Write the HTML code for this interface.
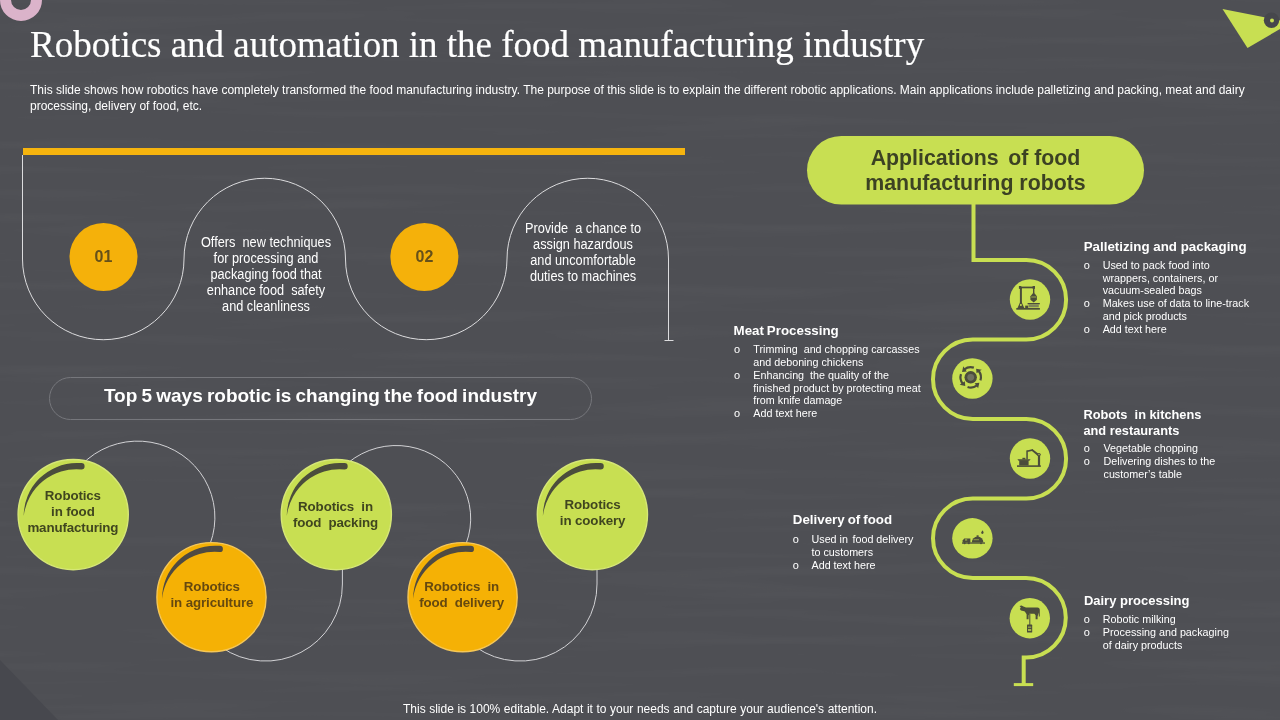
<!DOCTYPE html>
<html>
<head>
<meta charset="utf-8">
<title>Robotics and automation in the food manufacturing industry</title>
<style>
html,body{margin:0;padding:0;}
body{width:1280px;height:720px;overflow:hidden;background:#4e4f54;font-family:"Liberation Sans",sans-serif;color:#fff;position:relative;}
.abs{position:absolute;white-space:nowrap;}
#txt{position:absolute;left:0;top:0;width:1280px;height:720px;will-change:transform;}
#shapes{position:absolute;left:0;top:0;width:1280px;height:720px;}
.title{left:30px;top:22.5px;font-family:"Liberation Serif",serif;font-size:37px;line-height:44px;letter-spacing:-0.015px;-webkit-text-stroke:0.2px #fff;}
.sub{left:30px;top:82px;font-size:12px;line-height:16px;}
.num{font-weight:bold;font-size:16px;line-height:20px;color:#65501a;width:68px;text-align:center;}
.ctext{font-size:14px;line-height:16px;text-align:center;white-space:pre;transform:scaleX(0.91);transform-origin:50% 50%;}
.pilltxt{font-weight:bold;font-size:19px;line-height:24px;word-spacing:-1.1px;text-align:center;}
.ball{font-weight:bold;font-size:13.33px;line-height:16px;text-align:center;color:#40461f;letter-spacing:-0.12px;white-space:pre;width:120px;}
.ball.or{color:#66490f;}
.hd{font-weight:bold;font-size:21.33px;line-height:25.4px;text-align:center;color:#3c4223;white-space:pre;}
.h{font-weight:bold;font-size:13.33px;line-height:16px;white-space:pre;}
.b{font-size:10.75px;line-height:12.85px;white-space:pre;}
.o{font-family:"Liberation Mono",monospace;font-size:11px;line-height:12.85px;margin-left:-0.6px;margin-top:1px;}
.foot{left:0;width:1280px;text-align:center;top:700.5px;font-size:12px;line-height:16px;word-spacing:0.2px;}
</style>
</head>
<body>
<svg id="tex" viewBox="0 0 1280 720" style="position:absolute;left:0;top:0;width:1280px;height:720px;">
  <filter id="streak" x="0" y="0" width="100%" height="100%">
    <feTurbulence type="fractalNoise" baseFrequency="0.0035 0.085" numOctaves="2" seed="7" result="n"/>
    <feColorMatrix type="matrix" values="0 0 0 0 1  0 0 0 0 1  0 0 0 0 1  1.6 0 0 0 -0.72"/>
  </filter>
  <rect width="1280" height="720" filter="url(#streak)" opacity="0.032"/>
</svg>
<svg id="shapes" viewBox="0 0 1280 720">
  <!-- corner decorations -->
  <polygon points="0,660 58,720 0,720" fill="#47484e"/>
  <circle cx="21" cy="0" r="15.5" fill="none" stroke="#dbb3ca" stroke-width="11"/>
  <polygon points="1222.5,9 1280,20.2 1280,29 1247.5,48" fill="#c8df52"/>
  <circle cx="1271.5" cy="20.3" r="7.7" fill="#46474c"/>
  <circle cx="1272" cy="20.6" r="2" fill="#c8df52"/>

  <!-- yellow bar + wave -->
  <rect x="23" y="148" width="662" height="7" fill="#f6b40e"/>
  <path d="M22.5 155 V259 A80.75 80.75 0 0 0 184 259 A80.75 80.75 0 0 1 345.5 259 A80.75 80.75 0 0 0 507 259 A80.75 80.75 0 0 1 668.5 259 V340.5 M664.5 340.5 H673.5" fill="none" stroke="#dcdcde" stroke-width="1"/>
  <circle cx="103.5" cy="257" r="34" fill="#f5b10a"/>
  <circle cx="424.4" cy="257" r="34" fill="#f5b10a"/>

  <!-- top5 pill -->
  <rect x="49.5" y="377.5" width="542" height="42" rx="21" fill="none" stroke="#76777c" stroke-width="1"/>

  <!-- connector arcs -->
  <g fill="none" stroke="#d2d2d5" stroke-width="1">
    <path d="M60.3 517.5 A77.3 76.3 0 1 1 210.2 543.6"/>
    <path d="M342.4 566 V584 A77 77 0 0 1 221.2 647.1"/>
    <path d="M321.7 518.5 A74.5 73 0 1 1 466.2 543.5"/>
    <path d="M597 566 V584 A77 77 0 0 1 475.8 647.1"/>
  </g>
  <defs>
    <path id="sw" d="M-49.5 1.5 A53 53 0 0 1 3.5 -51.5 L8.2 -51.5 A3.2 3.2 0 0 1 8.2 -45.1 A53 53 0 0 0 -49.5 1.5 Z"/>
  </defs>
  <!-- balls -->
  <g>
    <circle cx="73.2" cy="514.6" r="55.1" fill="#c8df52" stroke="#d6e776" stroke-width="1.4"/>
    <use href="#sw" x="73.2" y="514.6" fill="#4b4d3c"/>
    <circle cx="211.5" cy="597.2" r="54.6" fill="#f5b105" stroke="#f5c758" stroke-width="1.4"/>
    <use href="#sw" x="211.5" y="597.2" fill="#4f4a42"/>
    <circle cx="336.3" cy="514.6" r="55.1" fill="#c8df52" stroke="#d6e776" stroke-width="1.4"/>
    <use href="#sw" x="336.3" y="514.6" fill="#4b4d3c"/>
    <circle cx="462.6" cy="597.2" r="54.6" fill="#f5b105" stroke="#f5c758" stroke-width="1.4"/>
    <use href="#sw" x="462.6" y="597.2" fill="#4f4a42"/>
    <circle cx="592.4" cy="514.6" r="55.1" fill="#c8df52" stroke="#d6e776" stroke-width="1.4"/>
    <use href="#sw" x="592.4" y="514.6" fill="#4b4d3c"/>
  </g>

  <!-- applications pill + serpentine -->
  <rect x="807" y="136" width="337" height="68.5" rx="34.25" fill="#c8df52"/>
  <path d="M973.5 203 V260 H1026.35 A39.75 39.75 0 0 1 1026.35 339.5 H972.75 A39.75 39.75 0 0 0 972.75 419 H1026.35 A39.75 39.75 0 0 1 1026.35 498.5 H972.75 A39.75 39.75 0 0 0 972.75 578 H1025.75 A39.75 39.75 0 0 1 1026.35 657.5 H1023.7 V684" fill="none" stroke="#c8df52" stroke-width="4" stroke-linejoin="miter"/>
  <path d="M1013.8 684.6 H1033.2" fill="none" stroke="#c8df52" stroke-width="3"/>
  <g fill="#c8df52">
    <circle cx="1030" cy="299.5" r="20.2"/>
    <circle cx="972.4" cy="378.5" r="20.2"/>
    <circle cx="1030" cy="458.5" r="20.2"/>
    <circle cx="972.4" cy="538.3" r="20.2"/>
    <circle cx="1029.8" cy="618.2" r="20.2"/>
  </g>

  <!-- icons -->
  <g fill="#4b4d3b" stroke="none">
    <!-- 1: palletizing crane -->
    <g>
      <rect x="1016.3" y="308" width="23.6" height="1.7"/>
      <rect x="1019.9" y="287" width="2" height="21"/>
      <path d="M1020.9 300.5 L1024.3 308 H1017.5 Z"/>
      <circle cx="1020.9" cy="304.9" r="1" fill="#c8df52"/>
      <rect x="1019.3" y="286.6" width="15.6" height="1.7"/>
      <rect x="1018.9" y="286" width="2.4" height="2.8"/>
      <rect x="1032.6" y="286" width="2.4" height="2.8"/>
      <rect x="1033" y="288" width="1.4" height="5"/>
      <path d="M1033.7 292.3 L1036.9 296.3 V299.8 L1033.7 302.4 L1030.4 299.8 V296.3 Z"/>
      <path d="M1031.2 296.4 H1036.2 V297.6 H1031.2 Z" fill="#c8df52" opacity=".55"/>
      <rect x="1027.6" y="303" width="12.2" height="1.3"/>
      <rect x="1028.6" y="304.3" width="10.2" height="3" fill="#7f8558"/>
      <rect x="1025.2" y="305.6" width="3" height="2.4"/>
    </g>
    <!-- 2: cycle arrows -->
    <g transform="translate(970.7 377.3)">
      <circle r="6.2" />
      <circle r="3.4" fill="#6f7160"/>
      <g fill="none" stroke="#4b4d3b" stroke-width="2.2">
        <path d="M-6.28 -8.04 A10.2 10.2 0 0 1 3.15 -9.70"/>
        <path d="M8.04 -6.28 A10.2 10.2 0 0 1 9.70 3.15"/>
        <path d="M6.28 8.04 A10.2 10.2 0 0 1 -3.15 9.70"/>
        <path d="M-8.04 6.28 A10.2 10.2 0 0 1 -9.70 -3.15"/>
      </g>
      <path d="M-8.65 -5.41 L-7.44 -11.03 L-3.97 -5.89 Z"/>
      <path d="M5.41 -8.65 L11.03 -7.44 L5.89 -3.97 Z"/>
      <path d="M8.65 5.41 L7.44 11.03 L3.97 5.89 Z"/>
      <path d="M-5.41 8.65 L-11.03 7.44 L-5.89 3.97 Z"/>
    </g>
  </g>

  <g fill="#4b4d3b" stroke="none">
    <!-- 3: kitchen robot arm + pot -->
    <g>
      <rect x="1017" y="465.3" width="23.8" height="1.6"/>
      <rect x="1037.9" y="454" width="2.2" height="12"/>
      <path d="M1039.6 454.6 L1032.6 449.2 L1031.6 450.8 L1038.2 456.2 Z"/>
      <circle cx="1039" cy="454.6" r="1.7"/>
      <circle cx="1039" cy="454.6" r=".7" fill="#c8df52"/>
      <path d="M1032.8 449 L1027 450.6 L1027.4 452 L1033.2 450.8 Z"/>
      <rect x="1026.3" y="450.4" width="1.5" height="9"/>
      <path d="M1019.2 460.2 H1028.6 V465.4 H1019.2 Z"/>
      <path d="M1017.4 459.2 H1030.6 L1029.4 460.8 H1018.6 Z"/>
      <rect x="1022.4" y="457.8" width="3" height="1.6"/>
      <rect x="1030" y="461.5" width="7.5" height="1.2" opacity=".0"/>
    </g>
    <!-- 4: delivery -->
    <g>
      <rect x="962" y="542.4" width="23" height="1.3"/>
      <path d="M962.6 542.6 V540.4 L964.2 538.4 H970.4 V542.6 Z"/>
      <rect x="965" y="539.2" width="2.2" height="1.4" fill="#c8df52" opacity=".6"/>
      <circle cx="964.6" cy="543.2" r="1.1"/>
      <circle cx="968.8" cy="543.2" r="1.1"/>
      <path d="M971.8 542.4 A5.8 5.8 0 0 1 983.4 542.4 Z"/>
      <rect x="976.6" y="535.3" width="2" height="1.6"/>
      <path d="M973.6 539.2 H979 V540.2 H973.6 Z" fill="#c8df52" opacity=".55"/>
      <path d="M982.3 530.2 C983.6 531.6 984 532.6 983.2 533.6 C982.4 534.4 981 533.8 981.2 532.6 C981.4 531.8 982.1 531.2 982.3 530.2 Z"/>
      <circle cx="981" cy="543.3" r="1"/>
    </g>
    <!-- 5: cow + milk can -->
    <g>
      <path d="M1019.6 606 L1021.6 605.6 L1023.4 606.4 L1026 607.4 H1037.4 C1039 607.4 1039.8 608.4 1039.8 610 V616.4 H1038.8 V612.4 L1037.6 616.6 V619.2 H1035.6 V615.2 L1034.4 613.8 H1029.4 L1028.6 615.4 V619.2 H1026.6 V614.2 L1024.8 611.6 L1023.2 611 L1021 610.6 L1019.8 609 L1020.8 607.6 Z"/>
      <rect x="1029.3" y="614" width="1" height="11" />
      <rect x="1027" y="624.6" width="5.2" height="8" rx=".6"/>
      <rect x="1028" y="626.6" width="3.2" height="1.1" fill="#c8df52" opacity=".7"/>
      <rect x="1028" y="629" width="3.2" height="2" fill="#c8df52" opacity=".7"/>
    </g>
  </g>
</svg>

<div id="txt">
<div class="abs title">Robotics and automation in the food manufacturing industry</div>
<div class="abs sub">This slide shows how robotics have completely transformed the food manufacturing industry. The purpose of this slide is to explain the different robotic applications. Main applications include palletizing and packing, meat and dairy<br>processing, delivery of food, etc.</div>

<div class="abs num" style="left:69.5px;top:247.4px;">01</div>
<div class="abs num" style="left:390.4px;top:247.4px;">02</div>
<div class="abs ctext" style="left:166.4px;width:200px;top:234px;">Offers  new techniques
for processing and
packaging food that
enhance food  safety
and cleanliness</div>
<div class="abs ctext" style="left:483.3px;width:200px;top:220px;">Provide  a chance to
assign hazardous
and uncomfortable
duties to machines</div>

<div class="abs pilltxt" style="left:49px;width:543px;top:384.4px;">Top 5 ways robotic is changing the food industry</div>

<div class="abs ball" style="left:12.9px;top:488.1px;">Robotics
in food
manufacturing</div>
<div class="abs ball or" style="left:151.9px;top:579.4px;">Robotics
in agriculture</div>
<div class="abs ball" style="left:275.5px;top:498.5px;">Robotics  in
food  packing</div>
<div class="abs ball or" style="left:401.7px;top:579.4px;">Robotics  in
food  delivery</div>
<div class="abs ball" style="left:532.6px;top:496.7px;">Robotics
in cookery</div>
<div class="abs hd" style="left:807px;width:337px;top:145.6px;">Applications<span style="margin-left:3.6px"></span> of food
manufacturing robots</div>
<div class="abs h" style="left:1083.7px;top:239.3px;">Palletizing and packaging</div>
<div class="abs o" style="left:1084.2px;top:258.70px;">o</div><div class="abs b" style="left:1102.7px;top:258.70px;">Used to pack food into
wrappers, containers, or
vacuum-sealed bags</div>
<div class="abs o" style="left:1084.2px;top:297.25px;">o</div><div class="abs b" style="left:1102.7px;top:297.25px;">Makes use of data to line-track
and pick products</div>
<div class="abs o" style="left:1084.2px;top:322.95px;">o</div><div class="abs b" style="left:1102.7px;top:322.95px;">Add text here</div>
<div class="abs h" style="left:733.6px;top:323.2px;word-spacing:-0.8px;">Meat Processing</div>
<div class="abs o" style="left:734.3px;top:343.00px;">o</div><div class="abs b" style="left:753.3px;top:343.00px;">Trimming  and chopping carcasses
and deboning chickens</div>
<div class="abs o" style="left:734.3px;top:368.70px;">o</div><div class="abs b" style="left:753.3px;top:368.70px;">Enhancing  the quality of the
finished product by protecting meat
from knife damage</div>
<div class="abs o" style="left:734.3px;top:407.25px;">o</div><div class="abs b" style="left:753.3px;top:407.25px;">Add text here</div>
<div class="abs h" style="left:1083.4px;top:406.7px;font-size:12.8px;">Robots  in kitchens
and restaurants</div>
<div class="abs o" style="left:1084.2px;top:441.90px;">o</div><div class="abs b" style="left:1103.5px;top:441.90px;">Vegetable chopping</div>
<div class="abs o" style="left:1084.2px;top:454.75px;">o</div><div class="abs b" style="left:1103.5px;top:454.75px;">Delivering dishes to the
customer’s table</div>
<div class="abs h" style="left:792.8px;top:512.1px;word-spacing:-0.7px;">Delivery of food</div>
<div class="abs o" style="left:793.0px;top:533.40px;">o</div><div class="abs b" style="left:811.5px;top:533.40px;">Used in<span style="margin-left:1.5px"></span> food delivery
to customers</div>
<div class="abs o" style="left:793.0px;top:559.10px;">o</div><div class="abs b" style="left:811.5px;top:559.10px;">Add text here</div>
<div class="abs h" style="left:1083.9px;top:593.0px;font-size:13px;">Dairy processing</div>
<div class="abs o" style="left:1084.2px;top:612.90px;">o</div><div class="abs b" style="left:1102.8px;top:612.90px;">Robotic milking</div>
<div class="abs o" style="left:1084.2px;top:625.75px;">o</div><div class="abs b" style="left:1102.8px;top:625.75px;">Processing and packaging
of dairy products</div>
<div class="abs foot">This slide is 100% editable. Adapt it to your needs and capture your audience's attention.</div>
</div>
</body>
</html>
